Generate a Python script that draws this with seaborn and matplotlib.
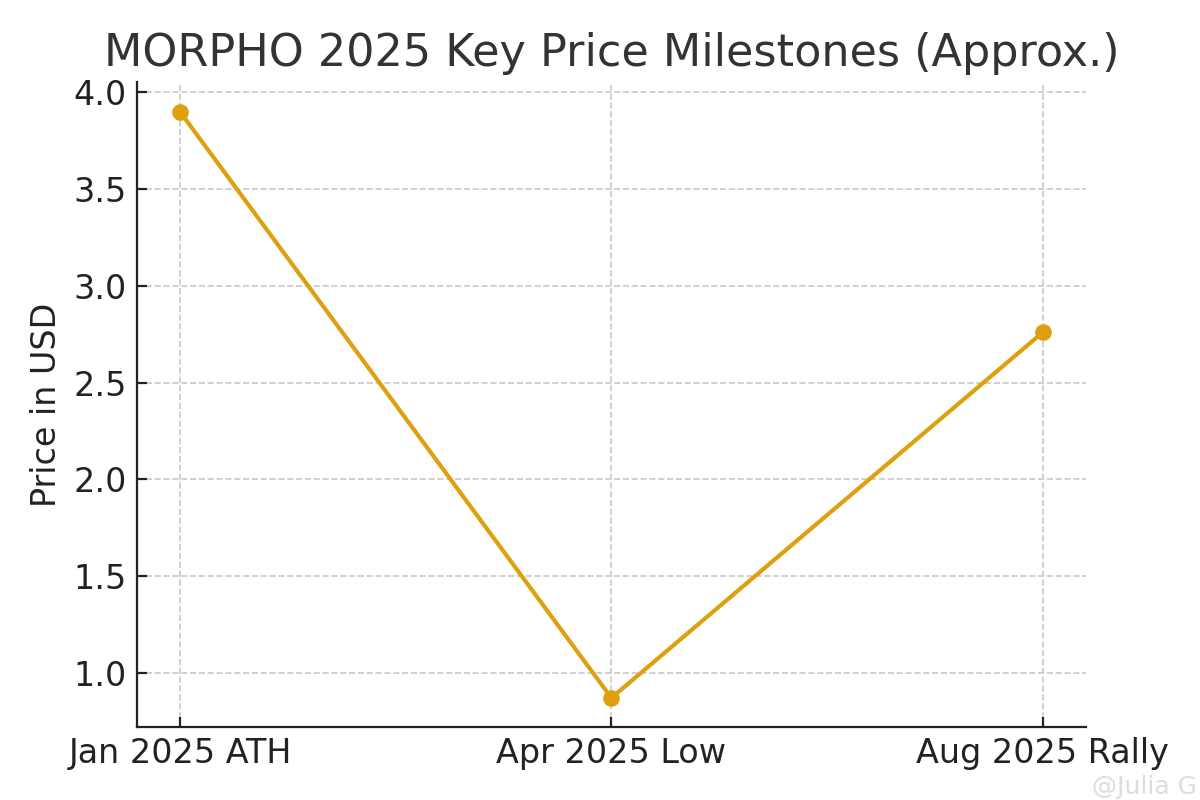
import matplotlib
matplotlib.use("agg")
import matplotlib.pyplot as plt
import seaborn as sns
import pandas as pd

# values
milestones = ["Jan 2025 ATH", "Apr 2025 Low", "Aug 2025 Rally"]
prices = [3.90, 0.87, 2.76]

df = pd.DataFrame({"milestone": milestones, "price": prices})

sns.set_style("ticks")
plt.rcParams.update({"font.family": ["DejaVu Sans"]})

fig, ax = plt.subplots(figsize=(6, 4), dpi=200)
sns.lineplot(data=df, x="milestone", y="price", marker="o", color="#DFA00F",
             linewidth=1.5, markersize=6, markeredgewidth=0, ax=ax, sort=False)

ax.grid(True, linestyle="--", color="#c8c8c8", linewidth=0.6)
ax.set_axisbelow(True)
sns.despine(ax=ax)
ax.spines["left"].set_color("#222222")
ax.spines["bottom"].set_color("#222222")

ax.set_title("MORPHO 2025 Key Price Milestones (Approx.)", fontsize=16, color="#333333")
ax.set_xlabel("")
ax.set_ylabel("Price in USD", fontsize=12, color="#222222")
ax.tick_params(labelsize=12, colors="#222222", direction="in", length=3.5)
ax.set_yticks([1.0, 1.5, 2.0, 2.5, 3.0, 3.5, 4.0])

fig.subplots_adjust(left=0.114, right=0.905, top=0.897, bottom=0.091)
fig.text(0.91, 0.008, "@Julia G", fontsize=9, color="#dddddd")

plt.savefig("out.png", dpi=200)
